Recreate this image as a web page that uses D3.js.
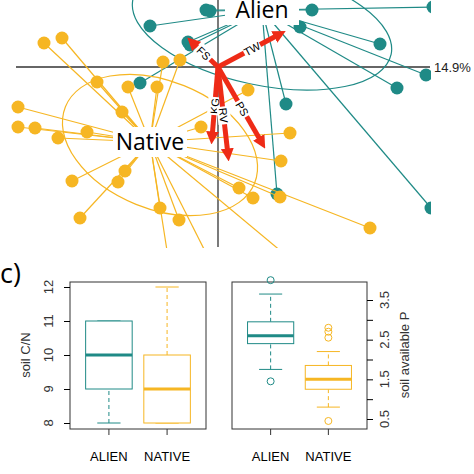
<!DOCTYPE html>
<html><head><meta charset="utf-8">
<script src="https://cdn.jsdelivr.net/npm/d3@7"></script>
<style>body{margin:0;background:#fff}</style>
</head><body>
<script>
// ordination scores (axis units, origin = 0)
var alienPts = [[-12,-57],[94,-57],[-68,-41],[82,-40],[-28,-22],[162,-23],[208,8],[179,21],[68,37],[59,127],[-78,16],[-30,-25],[215,-60],[213,141],[-8,-56]];
var nativePts = [[-174,-24],[-156,-29],[-121,15],[-90,20],[-61,20],[-96,45],[-183,61],[-160,71],[-131,65],[-55,-5],[-38,-7],[30,23],[-17,60],[72,66],[63,94],[21,121],[35,131],[62,130],[152,161],[-146,114],[-100,115],[-93,104],[-138,151],[-58,141],[-39,153],[-10,190],[70,190],[-50,190],[-200,40],[-200,60]];
var alienCentre = [44, -57], nativeCentre = [-68, 75];
var arrowNames = ["FS", "TW", "KG", "RV", "PS"];
var arrowEnds = [[-26,-25],[62,-33],[-6,71],[10,88],[44,76]];
var axisLabel = "14.9%";

var cnGroups = ["ALIEN", "NATIVE"];
var cnStats = [{lo:8, q1:9, med:10, q3:11, hi:11, out:[]}, {lo:8, q1:8, med:9, q3:10, hi:12, out:[]}];
var cnTicks = [8, 9, 10, 11, 12];
var pStats = [{lo:1.75, q1:2.4, med:2.6, q3:2.95, hi:3.65, out:[1.45, 4.0]}, {lo:0.8, q1:1.25, med:1.5, q3:1.85, hi:2.2, out:[0.45, 2.55, 2.7, 2.8]}];
var pTicks = [0.5, 1, 1.5, 2, 2.5, 3, 3.5];
var pLabels = [0.5, 1.5, 2.5, 3.5];

var teal = "#1f8a86", orange = "#f6b623", red = "#ee2b17";
var svg = d3.select("body").append("svg").attr("width", 474).attr("height", 474)
  .style("font-family", "Liberation Sans, Arial, sans-serif");

// ---- ordination panel
var x = d3.scaleLinear().domain([-202, 212]).range([16, 430]);
var y = d3.scaleLinear().domain([-67, 180]).range([0, 247]);
svg.append("clipPath").attr("id", "clip").append("rect").attr("width", 431).attr("height", 248);
var pca = svg.append("g").attr("clip-path", "url(#clip)");

pca.append("line").attr("x1", x(-202)).attr("x2", x(212)).attr("y1", y(0)).attr("y2", y(0)).attr("stroke", "#333").attr("stroke-width", 1.3);
pca.append("line").attr("x1", x(0)).attr("x2", x(0)).attr("y1", y(-67)).attr("y2", y(180)).attr("stroke", "#333").attr("stroke-width", 1.3);
svg.append("text").attr("x", 434).attr("y", y(0) + 5).text(axisLabel).style("font-size", "13px").attr("fill", "#222");

function spider(pts, c, col, ell) {
  pca.append("ellipse").attr("cx", x(ell[0])).attr("cy", y(ell[1])).attr("rx", ell[2]).attr("ry", ell[3])
    .attr("transform", "rotate(" + ell[4] + "," + x(ell[0]) + "," + y(ell[1]) + ")")
    .attr("fill", "none").attr("stroke", col).attr("stroke-width", 1.2);
  pca.selectAll(null).data(pts).enter().append("line")
    .attr("x1", function(d) { return x(d[0]); }).attr("y1", function(d) { return y(d[1]); })
    .attr("x2", x(c[0])).attr("y2", y(c[1])).attr("stroke", col).attr("stroke-width", 1.2);
  pca.selectAll(null).data(pts).enter().append("circle")
    .attr("cx", function(d) { return x(d[0]); }).attr("cy", function(d) { return y(d[1]); })
    .attr("r", 6.5).attr("fill", col);
}
spider(alienPts, alienCentre, teal, [44, -40, 132, 58, 12]);
spider(nativePts, nativeCentre, orange, [-58, 78, 102, 64, 22]);

// arrows
var defs = svg.append("defs");
defs.append("marker").attr("id", "ah").attr("viewBox", "0 0 10 10").attr("refX", 5).attr("refY", 5)
  .attr("markerWidth", 2.6).attr("markerHeight", 2.6).attr("orient", "auto")
  .append("path").attr("d", "M0,0L10,5L0,10Z").attr("fill", red);
arrowEnds.forEach(function(e, i) {
  pca.append("line").attr("x1", x(0)).attr("y1", y(0)).attr("x2", x(e[0])).attr("y2", y(e[1]))
    .attr("stroke", red).attr("stroke-width", 5).attr("marker-end", "url(#ah)");
  var mx = x(e[0] * 0.55), my = y(e[1] * 0.55);
  var ang = Math.atan2(y(e[1]) - y(0), x(e[0]) - x(0)) * 180 / Math.PI;
  if (ang > 90) ang -= 180;
  if (ang < -90) ang += 180;
  var lbl = pca.append("g").attr("transform", "translate(" + mx + "," + my + ") rotate(" + ang + ")");
  lbl.append("rect").attr("x", -9).attr("y", -7).attr("width", 18).attr("height", 13).attr("fill", "#fff");
  lbl.append("text").attr("text-anchor", "middle").attr("dy", 4).text(arrowNames[i]).style("font-size", "11px");
});

function groupLabel(t, c) {
  var g = pca.append("g").attr("transform", "translate(" + x(c[0]) + "," + y(c[1]) + ")");
  g.append("rect").attr("x", -37).attr("y", -15).attr("width", 74).attr("height", 30).attr("fill", "#fff");
  g.append("text").attr("text-anchor", "middle").attr("dy", 8).text(t)
    .style("font-size", "23px").style("font-family", "Open Sans, sans-serif");
}
groupLabel("Alien", alienCentre);
groupLabel("Native", nativeCentre);

// ---- boxplots
svg.append("text").attr("x", 0).attr("y", 283).text("c)").style("font-size", "27px").style("font-family", "Open Sans, sans-serif");

function boxPanel(x0, x1, stats, dom, rng, ticks, labels, rightAxis, title) {
  var ys = d3.scaleLinear().domain(dom).range(rng);
  var xs = d3.scaleBand().domain(cnGroups).range([x0 + 4, x1 - 4]).padding(0.2);
  var g = svg.append("g");
  g.append("rect").attr("x", x0).attr("y", 282).attr("width", x1 - x0).attr("height", 147)
    .attr("fill", "none").attr("stroke", "#333");
  var ax = rightAxis ? d3.axisRight(ys) : d3.axisLeft(ys);
  ax.tickValues(ticks).tickSize(6).tickFormat("");
  var ag = g.append("g").attr("transform", "translate(" + (rightAxis ? x1 : x0) + ",0)").call(ax);
  ag.select(".domain").remove();
  labels.forEach(function(v) {
    var tx = rightAxis ? x1 + 22 : x0 - 17;
    g.append("text").attr("transform", "translate(" + tx + "," + ys(v) + ") rotate(-90)")
      .attr("text-anchor", "middle").text(v).style("font-size", "13px").attr("fill", "#333");
  });
  var tt = rightAxis ? x1 + 42 : x0 - 40;
  g.append("text").attr("transform", "translate(" + tt + ",355) rotate(-90)").attr("text-anchor", "middle")
    .text(title).style("font-size", "13px").attr("fill", "#333");
  stats.forEach(function(s, i) {
    var col = i === 0 ? teal : orange, gx = xs(cnGroups[i]), w = xs.bandwidth(), cx = gx + w / 2;
    g.append("line").attr("x1", cx).attr("x2", cx).attr("y1", 429).attr("y2", 435).attr("stroke", "#333");
    g.append("text").attr("x", cx).attr("y", 461).attr("text-anchor", "middle").text(cnGroups[i]).style("font-size", "13px");
    g.append("line").attr("x1", cx).attr("x2", cx).attr("y1", ys(s.lo)).attr("y2", ys(s.q1)).attr("stroke", col).attr("stroke-dasharray", "4,3");
    g.append("line").attr("x1", cx).attr("x2", cx).attr("y1", ys(s.q3)).attr("y2", ys(s.hi)).attr("stroke", col).attr("stroke-dasharray", "4,3");
    [s.lo, s.hi].forEach(function(v) {
      g.append("line").attr("x1", cx - w / 4).attr("x2", cx + w / 4).attr("y1", ys(v)).attr("y2", ys(v)).attr("stroke", col);
    });
    g.append("rect").attr("x", gx).attr("width", w).attr("y", ys(s.q3)).attr("height", ys(s.q1) - ys(s.q3))
      .attr("fill", "#fff").attr("stroke", col);
    g.append("line").attr("x1", gx).attr("x2", gx + w).attr("y1", ys(s.med)).attr("y2", ys(s.med)).attr("stroke", col).attr("stroke-width", 3);
    s.out.forEach(function(v) {
      g.append("circle").attr("cx", cx).attr("cy", ys(v)).attr("r", 3.5).attr("fill", "none").attr("stroke", col);
    });
  });
}
boxPanel(70, 206, cnStats, [8, 12], [423, 287], cnTicks, cnTicks, false, "soil C/N");
boxPanel(232, 367, pStats, [0.5, 3.5], [419, 300], pTicks, pLabels, true, "soil available P");
</script>
</body></html>
